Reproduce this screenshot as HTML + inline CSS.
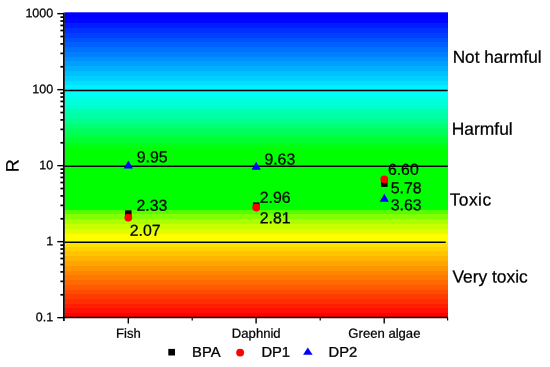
<!DOCTYPE html>
<html><head><meta charset="utf-8"><title>R chart</title>
<style>html,body{margin:0;padding:0;background:#fff}svg{display:block}text{font-family:"Liberation Sans",sans-serif;fill:#000;stroke:#000;stroke-width:0.25px;text-rendering:geometricPrecision}</style></head><body>
<svg width="550" height="367" viewBox="0 0 550 367">
<rect width="550" height="367" fill="#fff"/>
<defs><linearGradient id="bands" gradientUnits="userSpaceOnUse" x1="0" y1="12.3" x2="0" y2="317.9"><stop offset="0.000%" stop-color="rgb(0,0,255)"/><stop offset="0.458%" stop-color="rgb(0,0,255)"/><stop offset="0.458%" stop-color="rgb(0,0,255)"/><stop offset="2.022%" stop-color="rgb(0,0,255)"/><stop offset="2.022%" stop-color="rgb(0,5,255)"/><stop offset="3.586%" stop-color="rgb(0,5,255)"/><stop offset="3.586%" stop-color="rgb(0,28,255)"/><stop offset="5.151%" stop-color="rgb(0,28,255)"/><stop offset="5.151%" stop-color="rgb(0,48,255)"/><stop offset="6.715%" stop-color="rgb(0,48,255)"/><stop offset="6.715%" stop-color="rgb(0,64,255)"/><stop offset="8.279%" stop-color="rgb(0,64,255)"/><stop offset="8.279%" stop-color="rgb(0,80,255)"/><stop offset="9.843%" stop-color="rgb(0,80,255)"/><stop offset="9.843%" stop-color="rgb(0,96,255)"/><stop offset="11.407%" stop-color="rgb(0,96,255)"/><stop offset="11.407%" stop-color="rgb(0,112,255)"/><stop offset="12.971%" stop-color="rgb(0,112,255)"/><stop offset="12.971%" stop-color="rgb(0,128,255)"/><stop offset="14.535%" stop-color="rgb(0,128,255)"/><stop offset="14.535%" stop-color="rgb(0,144,255)"/><stop offset="16.099%" stop-color="rgb(0,144,255)"/><stop offset="16.099%" stop-color="rgb(0,160,255)"/><stop offset="17.664%" stop-color="rgb(0,160,255)"/><stop offset="17.664%" stop-color="rgb(0,176,255)"/><stop offset="19.228%" stop-color="rgb(0,176,255)"/><stop offset="19.228%" stop-color="rgb(0,192,255)"/><stop offset="20.792%" stop-color="rgb(0,192,255)"/><stop offset="20.792%" stop-color="rgb(0,208,255)"/><stop offset="22.356%" stop-color="rgb(0,208,255)"/><stop offset="22.356%" stop-color="rgb(0,224,255)"/><stop offset="23.920%" stop-color="rgb(0,224,255)"/><stop offset="23.920%" stop-color="rgb(0,240,255)"/><stop offset="25.484%" stop-color="rgb(0,240,255)"/><stop offset="25.484%" stop-color="rgb(0,255,250)"/><stop offset="27.048%" stop-color="rgb(0,255,250)"/><stop offset="27.048%" stop-color="rgb(0,255,235)"/><stop offset="28.613%" stop-color="rgb(0,255,235)"/><stop offset="28.613%" stop-color="rgb(0,255,218)"/><stop offset="30.177%" stop-color="rgb(0,255,218)"/><stop offset="30.177%" stop-color="rgb(0,255,200)"/><stop offset="31.741%" stop-color="rgb(0,255,200)"/><stop offset="31.741%" stop-color="rgb(0,255,180)"/><stop offset="33.305%" stop-color="rgb(0,255,180)"/><stop offset="33.305%" stop-color="rgb(0,255,160)"/><stop offset="34.869%" stop-color="rgb(0,255,160)"/><stop offset="34.869%" stop-color="rgb(0,255,139)"/><stop offset="36.433%" stop-color="rgb(0,255,139)"/><stop offset="36.433%" stop-color="rgb(0,255,117)"/><stop offset="37.997%" stop-color="rgb(0,255,117)"/><stop offset="37.997%" stop-color="rgb(0,255,94)"/><stop offset="39.562%" stop-color="rgb(0,255,94)"/><stop offset="39.562%" stop-color="rgb(0,255,72)"/><stop offset="41.126%" stop-color="rgb(0,255,72)"/><stop offset="41.126%" stop-color="rgb(0,255,48)"/><stop offset="42.690%" stop-color="rgb(0,255,48)"/><stop offset="42.690%" stop-color="rgb(0,255,24)"/><stop offset="44.254%" stop-color="rgb(0,255,24)"/><stop offset="44.254%" stop-color="rgb(0,255,0)"/><stop offset="45.818%" stop-color="rgb(0,255,0)"/><stop offset="45.818%" stop-color="rgb(0,255,0)"/><stop offset="47.382%" stop-color="rgb(0,255,0)"/><stop offset="47.382%" stop-color="rgb(0,255,0)"/><stop offset="48.946%" stop-color="rgb(0,255,0)"/><stop offset="48.946%" stop-color="rgb(0,255,0)"/><stop offset="50.510%" stop-color="rgb(0,255,0)"/><stop offset="50.510%" stop-color="rgb(0,255,0)"/><stop offset="52.075%" stop-color="rgb(0,255,0)"/><stop offset="52.075%" stop-color="rgb(0,255,0)"/><stop offset="53.639%" stop-color="rgb(0,255,0)"/><stop offset="53.639%" stop-color="rgb(0,255,0)"/><stop offset="55.203%" stop-color="rgb(0,255,0)"/><stop offset="55.203%" stop-color="rgb(0,255,0)"/><stop offset="56.767%" stop-color="rgb(0,255,0)"/><stop offset="56.767%" stop-color="rgb(0,255,0)"/><stop offset="58.331%" stop-color="rgb(0,255,0)"/><stop offset="58.331%" stop-color="rgb(0,255,0)"/><stop offset="59.895%" stop-color="rgb(0,255,0)"/><stop offset="59.895%" stop-color="rgb(0,255,0)"/><stop offset="61.459%" stop-color="rgb(0,255,0)"/><stop offset="61.459%" stop-color="rgb(0,255,0)"/><stop offset="63.024%" stop-color="rgb(0,255,0)"/><stop offset="63.024%" stop-color="rgb(0,255,0)"/><stop offset="64.588%" stop-color="rgb(0,255,0)"/><stop offset="64.588%" stop-color="rgb(85,255,0)"/><stop offset="66.152%" stop-color="rgb(85,255,0)"/><stop offset="66.152%" stop-color="rgb(130,255,0)"/><stop offset="67.716%" stop-color="rgb(130,255,0)"/><stop offset="67.716%" stop-color="rgb(170,255,0)"/><stop offset="69.280%" stop-color="rgb(170,255,0)"/><stop offset="69.280%" stop-color="rgb(200,255,0)"/><stop offset="70.844%" stop-color="rgb(200,255,0)"/><stop offset="70.844%" stop-color="rgb(225,255,0)"/><stop offset="72.408%" stop-color="rgb(225,255,0)"/><stop offset="72.408%" stop-color="rgb(255,255,0)"/><stop offset="73.973%" stop-color="rgb(255,255,0)"/><stop offset="73.973%" stop-color="rgb(255,255,0)"/><stop offset="75.164%" stop-color="rgb(255,255,0)"/><stop offset="75.164%" stop-color="rgb(255,225,0)"/><stop offset="76.718%" stop-color="rgb(255,225,0)"/><stop offset="76.718%" stop-color="rgb(255,210,0)"/><stop offset="78.272%" stop-color="rgb(255,210,0)"/><stop offset="78.272%" stop-color="rgb(255,195,0)"/><stop offset="79.827%" stop-color="rgb(255,195,0)"/><stop offset="79.827%" stop-color="rgb(255,180,0)"/><stop offset="81.381%" stop-color="rgb(255,180,0)"/><stop offset="81.381%" stop-color="rgb(255,165,0)"/><stop offset="82.935%" stop-color="rgb(255,165,0)"/><stop offset="82.935%" stop-color="rgb(255,150,0)"/><stop offset="84.490%" stop-color="rgb(255,150,0)"/><stop offset="84.490%" stop-color="rgb(255,135,0)"/><stop offset="86.044%" stop-color="rgb(255,135,0)"/><stop offset="86.044%" stop-color="rgb(255,120,0)"/><stop offset="87.598%" stop-color="rgb(255,120,0)"/><stop offset="87.598%" stop-color="rgb(255,105,0)"/><stop offset="89.152%" stop-color="rgb(255,105,0)"/><stop offset="89.152%" stop-color="rgb(255,90,0)"/><stop offset="90.707%" stop-color="rgb(255,90,0)"/><stop offset="90.707%" stop-color="rgb(255,75,0)"/><stop offset="92.261%" stop-color="rgb(255,75,0)"/><stop offset="92.261%" stop-color="rgb(255,60,0)"/><stop offset="93.815%" stop-color="rgb(255,60,0)"/><stop offset="93.815%" stop-color="rgb(255,45,0)"/><stop offset="95.370%" stop-color="rgb(255,45,0)"/><stop offset="95.370%" stop-color="rgb(255,30,0)"/><stop offset="96.924%" stop-color="rgb(255,30,0)"/><stop offset="96.924%" stop-color="rgb(255,15,0)"/><stop offset="98.478%" stop-color="rgb(255,15,0)"/><stop offset="98.478%" stop-color="rgb(255,0,0)"/><stop offset="100.000%" stop-color="rgb(255,0,0)"/></linearGradient></defs>
<rect x="64.60" y="12.30" width="383.40" height="305.60" fill="url(#bands)"/>
<line x1="64.60" x2="447.60" y1="90.45" y2="90.45" stroke="#000" stroke-width="1.55"/>
<line x1="64.60" x2="447.70" y1="166.30" y2="166.30" stroke="#000" stroke-width="1.55"/>
<line x1="64.60" x2="445.70" y1="242.25" y2="242.25" stroke="#000" stroke-width="1.55"/>
<line x1="63.9" x2="63.9" y1="12.8" y2="321" stroke="#000" stroke-width="1.7"/>
<line x1="63.1" x2="448.00" y1="317.5" y2="317.5" stroke="#000" stroke-width="1.6"/>
<line x1="57.3" x2="64" y1="317.65" y2="317.65" stroke="#000" stroke-width="1.4"/>
<line x1="60.4" x2="64" y1="294.77" y2="294.77" stroke="#000" stroke-width="1.7"/>
<line x1="60.4" x2="64" y1="281.39" y2="281.39" stroke="#000" stroke-width="1.7"/>
<line x1="60.4" x2="64" y1="271.89" y2="271.89" stroke="#000" stroke-width="1.7"/>
<line x1="60.4" x2="64" y1="264.53" y2="264.53" stroke="#000" stroke-width="1.7"/>
<line x1="60.4" x2="64" y1="258.51" y2="258.51" stroke="#000" stroke-width="1.7"/>
<line x1="60.4" x2="64" y1="253.42" y2="253.42" stroke="#000" stroke-width="1.7"/>
<line x1="60.4" x2="64" y1="249.02" y2="249.02" stroke="#000" stroke-width="1.7"/>
<line x1="60.4" x2="64" y1="245.13" y2="245.13" stroke="#000" stroke-width="1.7"/>
<line x1="57.3" x2="64" y1="241.65" y2="241.65" stroke="#000" stroke-width="1.4"/>
<line x1="60.4" x2="64" y1="218.77" y2="218.77" stroke="#000" stroke-width="1.7"/>
<line x1="60.4" x2="64" y1="205.39" y2="205.39" stroke="#000" stroke-width="1.7"/>
<line x1="60.4" x2="64" y1="195.89" y2="195.89" stroke="#000" stroke-width="1.7"/>
<line x1="60.4" x2="64" y1="188.53" y2="188.53" stroke="#000" stroke-width="1.7"/>
<line x1="60.4" x2="64" y1="182.51" y2="182.51" stroke="#000" stroke-width="1.7"/>
<line x1="60.4" x2="64" y1="177.42" y2="177.42" stroke="#000" stroke-width="1.7"/>
<line x1="60.4" x2="64" y1="173.02" y2="173.02" stroke="#000" stroke-width="1.7"/>
<line x1="60.4" x2="64" y1="169.13" y2="169.13" stroke="#000" stroke-width="1.7"/>
<line x1="57.3" x2="64" y1="165.65" y2="165.65" stroke="#000" stroke-width="1.4"/>
<line x1="60.4" x2="64" y1="142.77" y2="142.77" stroke="#000" stroke-width="1.7"/>
<line x1="60.4" x2="64" y1="129.39" y2="129.39" stroke="#000" stroke-width="1.7"/>
<line x1="60.4" x2="64" y1="119.89" y2="119.89" stroke="#000" stroke-width="1.7"/>
<line x1="60.4" x2="64" y1="112.53" y2="112.53" stroke="#000" stroke-width="1.7"/>
<line x1="60.4" x2="64" y1="106.51" y2="106.51" stroke="#000" stroke-width="1.7"/>
<line x1="60.4" x2="64" y1="101.42" y2="101.42" stroke="#000" stroke-width="1.7"/>
<line x1="60.4" x2="64" y1="97.02" y2="97.02" stroke="#000" stroke-width="1.7"/>
<line x1="60.4" x2="64" y1="93.13" y2="93.13" stroke="#000" stroke-width="1.7"/>
<line x1="57.3" x2="64" y1="89.65" y2="89.65" stroke="#000" stroke-width="1.4"/>
<line x1="60.4" x2="64" y1="66.77" y2="66.77" stroke="#000" stroke-width="1.7"/>
<line x1="60.4" x2="64" y1="53.39" y2="53.39" stroke="#000" stroke-width="1.7"/>
<line x1="60.4" x2="64" y1="43.89" y2="43.89" stroke="#000" stroke-width="1.7"/>
<line x1="60.4" x2="64" y1="36.53" y2="36.53" stroke="#000" stroke-width="1.7"/>
<line x1="60.4" x2="64" y1="30.51" y2="30.51" stroke="#000" stroke-width="1.7"/>
<line x1="60.4" x2="64" y1="25.42" y2="25.42" stroke="#000" stroke-width="1.7"/>
<line x1="60.4" x2="64" y1="21.02" y2="21.02" stroke="#000" stroke-width="1.7"/>
<line x1="60.4" x2="64" y1="17.13" y2="17.13" stroke="#000" stroke-width="1.7"/>
<line x1="57.3" x2="64" y1="13.65" y2="13.65" stroke="#000" stroke-width="1.4"/>
<line x1="128.3" x2="128.3" y1="317.5" y2="323.4" stroke="#000" stroke-width="1.4"/>
<line x1="256.1" x2="256.1" y1="317.5" y2="323.4" stroke="#000" stroke-width="1.4"/>
<line x1="384.2" x2="384.2" y1="317.5" y2="323.4" stroke="#000" stroke-width="1.4"/>
<line x1="192.2" x2="192.2" y1="317.5" y2="320.6" stroke="#000" stroke-width="1.2"/>
<line x1="320.2" x2="320.2" y1="317.5" y2="320.6" stroke="#000" stroke-width="1.2"/>
<line x1="447.6" x2="447.6" y1="317.5" y2="320.6" stroke="#000" stroke-width="1.2"/>
<text transform="translate(53.20,17.30) skewY(0.03)" font-size="12.5" text-anchor="end">1000</text>
<text transform="translate(53.20,93.30) skewY(0.03)" font-size="12.5" text-anchor="end">100</text>
<text transform="translate(53.20,169.30) skewY(0.03)" font-size="12.5" text-anchor="end">10</text>
<text transform="translate(53.20,245.30) skewY(0.03)" font-size="12.5" text-anchor="end">1</text>
<text transform="translate(53.20,321.30) skewY(0.03)" font-size="12.5" text-anchor="end">0.1</text>
<text transform="translate(128.40,337.70) skewY(0.03)" font-size="13.1" text-anchor="middle">Fish</text>
<text transform="translate(256.25,337.70) skewY(0.03)" font-size="13.1" text-anchor="middle">Daphnid</text>
<text transform="translate(384.40,337.70) skewY(0.03)" font-size="13.1" text-anchor="middle">Green algae</text>
<text transform="translate(18.40,165.70) rotate(-90) skewY(0.03)" font-size="18" text-anchor="middle">R</text>
<text transform="translate(452.70,62.80) skewY(0.03)" font-size="17.2">Not harmful</text>
<text transform="translate(451.80,134.80) skewY(0.03)" font-size="17.4">Harmful</text>
<text transform="translate(449.70,205.40) skewY(0.03)" font-size="17.4" letter-spacing="0.45">Toxic</text>
<text transform="translate(452.40,282.50) skewY(0.03)" font-size="17.4">Very toxic</text>
<rect x="125.05" y="210.28" width="6.5" height="6.6" fill="#000"/>
<circle cx="128.30" cy="217.59" r="3.9" fill="#f00"/>
<polygon points="128.30,160.57 123.70,168.57 132.90,168.57" fill="#00f"/>
<rect x="252.95" y="202.38" width="6.5" height="6.6" fill="#000"/>
<circle cx="256.20" cy="207.50" r="3.9" fill="#f00"/>
<polygon points="256.20,161.64 251.60,169.64 260.80,169.64" fill="#00f"/>
<rect x="381.05" y="180.29" width="6.5" height="6.6" fill="#000"/>
<circle cx="384.30" cy="179.31" r="3.9" fill="#f00"/>
<polygon points="384.30,193.85 379.70,201.85 388.90,201.85" fill="#00f"/>
<text transform="translate(136.70,162.25) skewY(0.03)" font-size="15.85">9.95</text>
<text transform="translate(136.50,210.75) skewY(0.03)" font-size="15.85">2.33</text>
<text transform="translate(129.70,235.85) skewY(0.03)" font-size="15.85">2.07</text>
<text transform="translate(264.40,164.45) skewY(0.03)" font-size="15.85">9.63</text>
<text transform="translate(259.70,202.85) skewY(0.03)" font-size="15.85">2.96</text>
<text transform="translate(259.70,223.25) skewY(0.03)" font-size="15.85">2.81</text>
<text transform="translate(387.90,174.65) skewY(0.03)" font-size="15.85">6.60</text>
<text transform="translate(390.70,193.25) skewY(0.03)" font-size="15.85">5.78</text>
<text transform="translate(390.70,210.15) skewY(0.03)" font-size="15.85">3.63</text>
<rect x="168.3" y="348.9" width="6.7" height="6.6" fill="#000"/>
<circle cx="240.15" cy="352.6" r="3.95" fill="#f00"/>
<polygon points="307.8,347.4 303.1,354.7 312.6,354.7" fill="#00f"/>
<text transform="translate(192.10,356.70) scale(1.045,1) skewY(0.03)" font-size="14.1" style="stroke-width:0.3px">BPA</text>
<text transform="translate(261.40,356.70) scale(1.045,1) skewY(0.03)" font-size="14.1" style="stroke-width:0.3px">DP1</text>
<text transform="translate(328.50,356.70) scale(1.045,1) skewY(0.03)" font-size="14.1" style="stroke-width:0.3px">DP2</text>
</svg></body></html>
